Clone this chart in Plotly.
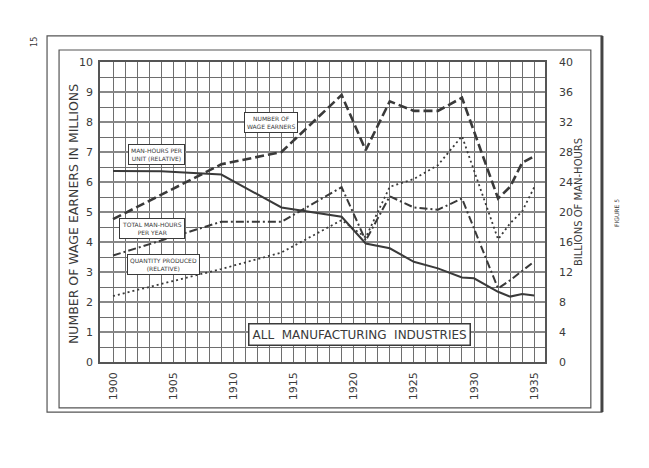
import plotly.graph_objects as go

# ---- data ----
years_wage = [1900, 1909, 1914, 1919, 1921, 1923, 1925, 1927, 1929, 1932, 1933, 1934, 1935]
wage_earners_millions = [4.76, 6.59, 7.0, 8.9, 7.06, 8.69, 8.37, 8.37, 8.81, 5.45, 5.84, 6.64, 6.86]

years_total = [1900, 1909, 1914, 1919, 1921, 1923, 1925, 1927, 1929, 1932, 1933, 1934, 1935]
total_man_hours_billions = [14.2, 18.7, 18.7, 23.3, 16.2, 22.1, 20.6, 20.3, 21.8, 9.8, 10.9, 12.2, 13.4]

years_qty = [1900, 1909, 1914, 1919, 1921, 1923, 1925, 1927, 1929, 1932, 1933, 1934, 1935]
quantity_produced_rel = [2.2, 3.1, 3.65, 4.73, 4.15, 5.84, 6.1, 6.56, 7.53, 4.09, 4.62, 5.02, 5.82]

years_unit = [1900, 1904, 1909, 1914, 1919, 1921, 1923, 1925, 1927, 1929, 1930, 1932, 1933, 1934, 1935]
man_hours_per_unit_rel = [6.37, 6.36, 6.25, 5.15, 4.84, 3.95, 3.79, 3.34, 3.12, 2.82, 2.79, 2.34, 2.18, 2.27, 2.22]

x_tick_vals = [1900, 1905, 1910, 1915, 1920, 1925, 1930, 1935]
x_tick_text = ["1900", "1905", "1910", "1915", "1920", "1925", "1930", "1935"]
left_ticks = list(range(0, 11))
right_ticks = list(range(0, 41, 4))

INK = "#3a3a3a"
GRID = "#6e6e6e"
FONT = "DejaVu Sans"

fig = go.Figure()
fig.add_trace(go.Scatter(x=years_wage, y=wage_earners_millions, mode="lines",
                         line=dict(color=INK, width=2.6, dash="9px,4px"), yaxis="y"))
fig.add_trace(go.Scatter(x=years_total, y=total_man_hours_billions, mode="lines",
                         line=dict(color=INK, width=2.0, dash="8px,3px,2px,3px"), yaxis="y2"))
fig.add_trace(go.Scatter(x=years_qty, y=quantity_produced_rel, mode="lines",
                         line=dict(color=INK, width=1.8, dash="2px,3px"), yaxis="y"))
fig.add_trace(go.Scatter(x=years_unit, y=man_hours_per_unit_rel, mode="lines",
                         line=dict(color=INK, width=2.0), yaxis="y"))

def box(text, x, y, size=6, bw=1, pad=2):
    return dict(text=text, x=x, y=y, xref="x", yref="y", showarrow=False,
                xanchor="center", yanchor="middle",
                font=dict(family=FONT, size=size, color=INK), bgcolor="white",
                bordercolor=INK, borderwidth=bw, borderpad=pad, align="center")

def side_text(text, x, y, size):
    return dict(text=text, x=x, y=y, xref="paper", yref="paper", showarrow=False,
                xanchor="center", yanchor="middle", textangle=-90,
                font=dict(family=FONT, size=size, color=INK))

annotations = [
    box("MAN-HOURS PER<br>UNIT (RELATIVE)", 1903.6, 6.91),
    box("NUMBER OF<br>WAGE EARNERS", 1913.1, 8.0),
    box("TOTAL MAN-HOURS<br>PER YEAR", 1903.2, 4.45),
    box("QUANTITY PRODUCED<br>(RELATIVE)", 1904.2, 3.25),
    box("ALL  MANUFACTURING  INDUSTRIES", 1920.45, 0.93, size=12, bw=1.5, pad=3),
    side_text("NUMBER OF WAGE EARNERS IN MILLIONS", -0.0607, 0.493, 12.5),
    side_text("BILLIONS OF MAN-HOURS", 1.074, 0.533, 10),
    side_text("15", -0.146, 1.067, 8),
    side_text("FIGURE 5", 1.162, 0.497, 6),
]

shapes = [
    dict(type="rect", xref="paper", yref="paper", x0=-0.119, x1=1.128, y0=-0.167, y1=1.087,
         line=dict(color="#555", width=1.2)),
    dict(type="line", xref="paper", yref="paper", x0=1.128, x1=1.128, y0=-0.167, y1=1.087,
         line=dict(color="#444", width=3)),
    dict(type="rect", xref="paper", yref="paper", x0=-0.092, x1=1.103, y0=-0.153, y1=1.04,
         line=dict(color="#555", width=1.2)),
]

# page body has an 8px default margin, so the figure is sized/margined to land
# the plot area at the same window pixels as the reference
fig.update_layout(
    width=641, height=460,
    margin=dict(l=92, r=104, t=54, b=106),
    paper_bgcolor="white", plot_bgcolor="white",
    showlegend=False,
    font=dict(family=FONT, color=INK),
    annotations=annotations,
    shapes=shapes,
    xaxis=dict(range=[1898.92, 1935.9], tickmode="array", tickvals=x_tick_vals, ticktext=x_tick_text,
               tickangle=-90, tickfont=dict(size=11, color=INK), ticks="",
               showgrid=True, gridcolor=GRID, gridwidth=1,
               minor=dict(dtick=1, tick0=1900, showgrid=True, gridcolor=GRID, gridwidth=1),
               showline=True, linecolor="#555", linewidth=1.5, mirror=True, zeroline=False,
               ticklabelstandoff=4),
    yaxis=dict(range=[0, 10], tickmode="array", tickvals=left_ticks, tickfont=dict(size=11, color=INK),
               ticks="", showgrid=True, gridcolor="#888", gridwidth=1.6,
               minor=dict(dtick=0.5, tick0=0, showgrid=True, gridcolor=GRID, gridwidth=1),
               showline=True, linecolor="#555", linewidth=1.5, mirror=True, zeroline=False,
               ticklabelstandoff=3),
    yaxis2=dict(range=[0, 40], overlaying="y", side="right", tickmode="array", tickvals=right_ticks,
                tickfont=dict(size=11, color=INK), ticks="", showgrid=False, zeroline=False,
                showline=False, ticklabelstandoff=13),
)

fig.write_html("out.html")
